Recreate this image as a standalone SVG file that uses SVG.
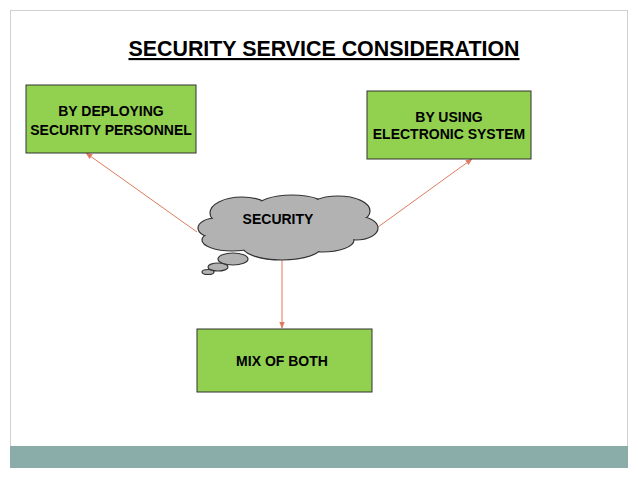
<svg xmlns="http://www.w3.org/2000/svg" width="638" height="478" viewBox="0 0 638 478">
<style>
.box{fill:#92d050;stroke:#333;stroke-width:1}
.t{font-family:"Liberation Sans",Arial,sans-serif;font-weight:bold;font-size:14px;fill:#000;text-anchor:middle}
.c{fill:#b2b2b2;stroke:#333;stroke-width:1.2}
.ci{fill:#b2b2b2}
.con{stroke:#e07a5f;stroke-width:1;fill:none;marker-end:url(#a)}
</style>
<defs><marker id="a" viewBox="0 0 10 10" refX="9" refY="5" markerWidth="7" markerHeight="7" orient="auto"><path d="M0,1 L10,5 L0,9 z" fill="#e07a5f"/></marker></defs>
<rect width="638" height="478" fill="#fff"/>
<rect x="10.5" y="10.5" width="617" height="457" fill="none" stroke="#d0d0d0"/>
<rect x="10" y="446" width="618" height="22" fill="#8aadaa"/>
<text x="324" y="56" class="t" style="font-size:21.4px;text-decoration:underline">SECURITY SERVICE CONSIDERATION</text>
<g id="connectors">
<line x1="197" y1="232" x2="86" y2="153" class="con"/>
<line x1="378" y1="227" x2="472" y2="159" class="con"/>
<line x1="282" y1="258" x2="282" y2="328" class="con"/>
</g>
<g id="n1"><rect x="26" y="85" width="170" height="68" class="box"/><text x="111" y="116" class="t">BY DEPLOYING</text><text x="111" y="135" class="t">SECURITY PERSONNEL</text></g>
<g id="n2"><rect x="367" y="91" width="164" height="68" class="box"/><text x="449" y="122" class="t">BY USING</text><text x="449" y="139" class="t">ELECTRONIC SYSTEM</text></g>
<g id="n3"><rect x="197" y="329" width="175" height="63" class="box"/><text x="282" y="366" class="t">MIX OF BOTH</text></g>
<g id="cloud">
<ellipse cx="208" cy="272" rx="6" ry="2.5" class="c"/>
<ellipse cx="218" cy="267" rx="10" ry="4" class="c"/>
<ellipse cx="233" cy="259" rx="15" ry="6" class="c"/>
<g>
<ellipse cx="242" cy="213" rx="32" ry="16" class="c"/><ellipse cx="292" cy="208" rx="36" ry="13" class="c"/><ellipse cx="338" cy="211" rx="32" ry="15" class="c"/><ellipse cx="356" cy="228" rx="22" ry="12" class="c"/><ellipse cx="322" cy="240" rx="32" ry="12" class="c"/><ellipse cx="282" cy="246" rx="40" ry="14" class="c"/><ellipse cx="232" cy="240" rx="30" ry="11" class="c"/><ellipse cx="216" cy="228" rx="18" ry="10" class="c"/>
<ellipse cx="242" cy="213" rx="31" ry="15" class="ci"/><ellipse cx="292" cy="208" rx="35" ry="12" class="ci"/><ellipse cx="338" cy="211" rx="31" ry="14" class="ci"/><ellipse cx="356" cy="228" rx="21" ry="11" class="ci"/><ellipse cx="322" cy="240" rx="31" ry="11" class="ci"/><ellipse cx="282" cy="246" rx="39" ry="13" class="ci"/><ellipse cx="232" cy="240" rx="29" ry="10" class="ci"/><ellipse cx="216" cy="228" rx="17" ry="9" class="ci"/>
<ellipse cx="285" cy="226" rx="60" ry="18" class="ci"/>
</g>
<text x="278" y="224" class="t">SECURITY</text>
</g>
</svg>
